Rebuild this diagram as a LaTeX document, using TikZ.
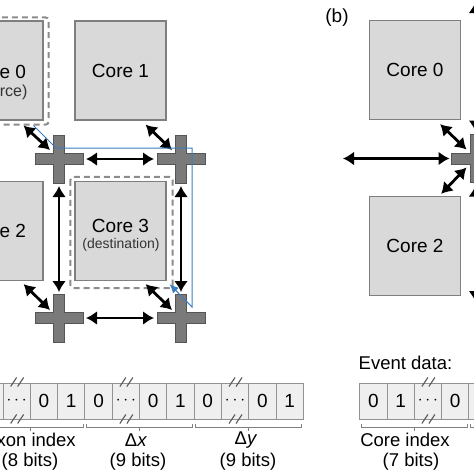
\documentclass[tikz,border=0pt]{standalone}
\usepackage{fontspec}
\setmainfont{Liberation Sans}
\usetikzlibrary{arrows.meta,calc}

\definecolor{corefill}{HTML}{D9D9D9}
\definecolor{coreline}{HTML}{7F7F7F}
\definecolor{routerfill}{HTML}{7A7A7A}
\definecolor{routerline}{HTML}{555555}
\definecolor{cellfill}{HTML}{EFEFEF}
\definecolor{routecol}{HTML}{3A7DC0}

\tikzset{
  core/.style={draw=coreline, fill=corefill, line width=1.2pt, minimum width=91pt,
    minimum height=99pt, inner sep=0pt, font=\fontsize{19}{21}\selectfont},
  coretext/.style={inner sep=0pt, font=\fontsize{19}{21}\selectfont},
  roletext/.style={inner sep=0pt, font=\fontsize{14}{16}\selectfont, text=black!80},
  hilite/.style={draw=coreline!90, dash pattern=on 6pt off 4pt, line width=2pt, rounded corners=3pt},
  link/.style={line width=2.8pt, {Latex[length=11pt,width=14pt]}-{Latex[length=11pt,width=14pt]}},
  bit/.style={draw=coreline!85, fill=cellfill, line width=1pt, minimum width=27.3pt,
    minimum height=36pt, inner sep=0pt, font=\fontsize{19}{21}\selectfont},
  bracket/.style={draw=coreline, line width=1.2pt},
  fieldtext/.style={inner sep=0pt, font=\fontsize{18.5}{20}\selectfont},
  router/.pic={
    \draw[fill=routerfill, draw=routerline, line width=1pt]
      (-5.5,-24) -- (5.5,-24) -- (5.5,-5.5) -- (24,-5.5) -- (24,5.5) -- (5.5,5.5)
      -- (5.5,24) -- (-5.5,24) -- (-5.5,5.5) -- (-24,5.5) -- (-24,-5.5) -- (-5.5,-5.5) -- cycle;
  }
}

% brace under a group of bit cells
\newcommand\bitbrace[2]{%
  \draw[bracket] ($(#1.south west)+(2,4)$) -- ($(#1.south west)+(2,8)$)
    -- ($(#2.south east)+(-2,8)$) -- ($(#2.south east)+(-2,4)$);
  \draw[bracket] ($($(#1.south west)!.5!(#2.south east)$)+(0,8)$) -- ++(0,3);
}

\begin{document}
\begin{tikzpicture}[x=1pt,y=-1pt]
\useasboundingbox (0,0) rectangle (474,474);
\clip (0,0) rectangle (474,474);

% (a) cores
\node[core] (c0) at (-2.5,70.5) {};
\node[core] (c1) at (120.5,70.5) {Core 1};
\node[core] (c2) at (-2.5,231) {Core 2};
\node[core] (c3) at (120.5,231) {};
\node[coretext] (c0name) at (-2.5,72) {Core 0};
\node[roletext, font=\fontsize{16}{18}\selectfont] (c0role) at (-2,92) {(source)};
\node[coretext] (c3name) at (120.5,226) {Core 3};
\node[roletext] (c3role) at (121,245) {(destination)};
\draw[hilite] ($(c0.north west)+(-5,-3)$) rectangle ($(c0.south east)+(5,4)$);
\draw[hilite] ($(c3.north west)+(-4,-4)$) rectangle ($(c3.south east)+(6,7)$);

% routers
\foreach \n/\x/\y in {r1/59/159, r2/181/159, r3/59/318, r4/181/318, rb/475.5/158.5} {
  \coordinate (\n) at (\x,\y);
  \pic at (\n) {router};
}

\draw[link] ($(r1)+(27,0)$) -- ($(r2)+(-27,0)$);
\draw[link] ($(r3)+(27,0)$) -- ($(r4)+(-27,0)$);
\draw[link] ($(r1)+(0,27)$) -- ($(r3)+(0,-26)$);
\draw[link] ($(r2)+(0,27)$) -- ($(r4)+(0,-26)$);
\draw[link] ($(c0.south east)+(-20,5)$) -- ($(r1)+(-9,-9)$);
\draw[link] ($(c1.south east)+(-21,4)$) -- ($(r2)+(-9,-9)$);
\draw[link] ($(c2.south east)+(-20,3)$) -- ($(r3)+(-9,-8)$);
\draw[link] ($(c3.south east)+(-21,3)$) -- ($(r4)+(-9,-8)$);

% event route
\draw[routecol, line width=1pt, -{Latex[length=9pt,width=8pt]}]
  ($(c0.south east)+(-10,5)$) -- ($(r1)+(-3,-11)$) -- ($(r2)+(11,-11)$)
  -- ($(r4)+(11,-11)$) -- ($(c3.south east)+(3,3)$);

% (b)
\node[coretext] (blabel) at (337,18) {(b)};
\node[core] (cb0) at (415,70) {Core 0};
\node[core] (cb2) at (415,246) {Core 2};
\coordinate (bwest) at (343,158.5);
\coordinate (bnorth) at (475.5,2);
\coordinate (bsouth) at (475.5,302);
\draw[link] (bwest) -- ($(rb)+(-26,0)$);
\draw[link] ($(cb0.south east)+(-21,4)$) -- ($(rb)+(-9,-9)$);
\draw[link] ($(cb2.north east)+(-20,-2)$) -- ($(rb)+(-9,9)$);
\draw[link] ($(rb)+(0,-27)$) -- (bnorth);
\draw[link] ($(rb)+(0,27)$) -- (bsouth);

% packet fields
\foreach \v [count=\k from 0] in {{},$\cdots$,0,1,0,$\cdots$,0,1,0,$\cdots$,0,1}
  \node[bit] (a\k) at (-10.65+27.3*\k,401) {\v};
\foreach \v [count=\k from 0] in {0,1,$\cdots$,0,{}}
  \node[bit] (e\k) at (373.5+27.2*\k,401) {\v};
\foreach \g in {a1,a5,a9,e2} {
  \draw[black!65, line width=1.1pt] ($(\g.north)+(-6,4)$) -- ++(6,-9) ($(\g.north)+(1,4)$) -- ++(6,-9);
  \draw[black!65, line width=1.1pt] ($(\g.south)+(-6,4)$) -- ++(6,-9) ($(\g.south)+(1,4)$) -- ++(6,-9);
}
\bitbrace{a0}{a3}
\bitbrace{a4}{a7}
\bitbrace{a8}{a11}
\bitbrace{e0}{e3}
\bitbrace{e4}{e4}

\node[fieldtext] (axon) at (30,440) {Axon index};
\node[fieldtext] (axonbits) at (30,462) {(8 bits)};
\node[fieldtext] (dx) at (136,440) {Δ\textit{x}};
\node[fieldtext] (dxbits) at (138,462) {(9 bits)};
\node[fieldtext] (dy) at (246,440) {Δ\textit{y}};
\node[fieldtext] (dybits) at (248,462) {(9 bits)};
\node[fieldtext] (event) at (405.5,363) {Event data:};
\node[fieldtext] (coreidx) at (405,440) {Core index};
\node[fieldtext] (corebits) at (411,462) {(7 bits)};
\end{tikzpicture}
\end{document}
